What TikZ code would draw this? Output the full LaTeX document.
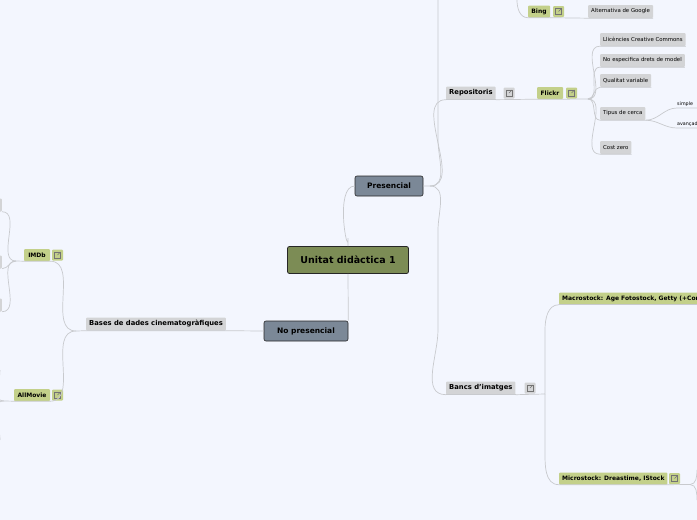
\documentclass[tikz,border=0pt]{standalone}
\usepackage{fontspec}
\setmainfont{DejaVu Sans}
\begin{document}
\begin{tikzpicture}[x=1pt,y=-1pt,
  every node/.style={inner sep=0pt,font=\bfseries},
  main/.style={draw=black!85,line width=0.8pt,rounded corners=2pt,minimum height=27pt,font=\bfseries\fontsize{9.5}{10}\selectfont,fill=mainc,text=black},
  lvl1/.style={draw=black!85,line width=0.6pt,rounded corners=2pt,minimum height=20pt,fill=slate,font=\bfseries\fontsize{7.5}{8}\selectfont},
  gbox/.style={fill=gboxc,rounded corners=1pt,minimum height=13pt,inner xsep=3pt,font=\bfseries\fontsize{6.8}{7}\selectfont},
  grbox/.style={fill=greenc,rounded corners=1pt,minimum height=12pt,inner xsep=3pt,font=\bfseries\fontsize{6}{7}\selectfont},
  leaf/.style={fill=gboxc,rounded corners=1pt,minimum height=13pt,inner xsep=3pt,font=\fontsize{5.4}{6}\selectfont},
  tiny/.style={font=\fontsize{4.8}{5}\selectfont},
  icon/.style={minimum size=11pt,rounded corners=1pt},
  gicon/.style={icon,fill=greenc},
  ggicon/.style={icon,fill=gboxc},
  con/.style={draw=linec,line width=0.7pt}]
\definecolor{bg}{HTML}{F3F6FE}
\definecolor{mainc}{HTML}{7C8C55}
\definecolor{slate}{HTML}{7B8897}
\definecolor{gboxc}{HTML}{D3D4D6}
\definecolor{greenc}{HTML}{C3D08A}
\definecolor{linec}{HTML}{C8CACE}
\fill[bg] (0,0) rectangle (697,520);
\useasboundingbox (0,0) rectangle (697,520);
\begin{scope}
\clip (0,0) rectangle (697,520);
% nodes
\node[main,minimum width=121pt] (c) at (348,260) {Unitat didàctica 1};
\node[lvl1,minimum width=68pt] (p) at (389,186) {Presencial};
\node[lvl1,minimum width=84pt] (np) at (306,331) {No presencial};
\node[gbox,anchor=west] (rep) at (446,93) {Repositoris};
\node[ggicon] (repi) at (509,93) {};
\node[gbox,anchor=west] (ban) at (446,388) {Bancs d’imatges};
\node[ggicon] (bani) at (530,388) {};
\node[grbox,minimum width=22pt] (bing) at (539,11.5) {Bing};
\node[gicon] (bingi) at (558.5,11.5) {};
\node[leaf,anchor=west] (alt) at (588,11.5) {Alternativa de Google};
\node[grbox,minimum width=26pt] (fl) at (550,93) {Flickr};
\node[gicon] (fli) at (571.5,93) {};
\node[leaf,anchor=west] (f1) at (600,39.5) {Llicències Creative Commons};
\node[leaf,anchor=west] (f2) at (600,60.5) {No especifica drets de model};
\node[leaf,anchor=west] (f3) at (600,80.5) {Qualitat variable};
\node[leaf,anchor=west] (f4) at (600,113.5) {Tipus de cerca};
\node[leaf,anchor=west] (f5) at (600,147.5) {Cost zero};
\node[tiny,anchor=west] (s1) at (677,104) {simple};
\node[tiny,anchor=west] (s2) at (677,124) {avançada};
\node[grbox,anchor=west] (mac) at (559,298.5) {Macrostock: Age Fotostock, Getty (+Corbis)};
\node[grbox,anchor=west] (mic) at (559,478.5) {Microstock: Dreastime, IStock};
\node[gicon] (mici) at (674.5,478.5) {};
\node[gbox,anchor=west] (bd) at (86,324) {Bases de dades cinematogràfiques};
\node[grbox,minimum width=26pt] (imdb) at (37,255) {IMDb};
\node[gicon] (imdbi) at (57.5,255) {};
\node[grbox,minimum width=36pt] (all) at (32,395) {AllMovie};
\node[gicon] (alli) at (57.5,395) {};
\node[gbox,anchor=east,minimum width=6pt] (l1) at (2,205) {};
\node[gbox,anchor=east,minimum width=6pt] (l2) at (2,262) {};
\node[gbox,anchor=east,minimum width=6pt] (l3) at (2,305) {};
% icon glyphs
\foreach \i in {repi,bani,bingi,fli,mici,imdbi,alli}{
  \draw[black!55,line width=0.4pt] ([shift={(-3,-3)}]\i.center) rectangle ([shift={(3,3)}]\i.center);
  \draw[black!55,line width=0.4pt] (\i.center) -- ([shift={(3,-3)}]\i.center);}
% connectors
\draw[con] (c.north) -- ++(0,-8) to[out=-90,in=180] (p.west);
\draw[con] (c.south) -- (np.north east);
\draw[con] (p.east) -- (430,186) to[out=0,in=180] (rep.south west);
\draw[con] (430,186) to[out=0,in=90] (438,230) -- (438,330) to[out=-90,in=180] (ban.south west);
\draw[con] (430,186) to[out=0,in=-90] (438,140) -- (438,0);
\draw[con] (rep.south west) -- (rep.south east);
\draw[con] (ban.south west) -- (ban.south east);
\draw[con] (rep.south east) -- (fl.south west) -- (fl.south east);
\draw[con] (ban.south east) -- (545,394) -- (545,330) to[out=90,in=180] (mac.south west);
\draw[con] (545,394) -- (545,450) to[out=-90,in=180] (mic.south west);
\draw[con] (mac.south west) -- (mac.south east);
\draw[con] (mic.south west) -- (mic.south east) -- (690,484.5) to[out=0,in=-90] (697,470);
\draw[con] (690,484.5) to[out=0,in=90] (697,500);
\draw[con] (517,0) to[out=-90,in=180] (bing.south west) -- (bing.south east);
\draw[con] (bing.south east) -- (alt.south west) -- (alt.south east);
\draw[con] (fl.south east) -- (588,99) to[out=0,in=180] (f1.south west) -- (f1.south east);
\draw[con] (588,99) to[out=0,in=180] (f2.south west) -- (f2.south east);
\draw[con] (588,99) to[out=0,in=180] (f3.south west) -- (f3.south east);
\draw[con] (588,99) to[out=0,in=180] (f4.south west) -- (f4.south east);
\draw[con] (588,99) to[out=0,in=180] (f5.south west) -- (f5.south east);
\draw[con] (f4.south east) to[out=0,in=180] (677,108) -- (697,108);
\draw[con] (f4.south east) to[out=0,in=180] (677,128) -- (697,128);
\draw[con] (np.west) -- (bd.south east) -- (bd.south west);
\draw[con] (bd.south west) -- (76,331) to[out=180,in=0] (imdb.south east);
\draw[con] (76,331) to[out=180,in=0] (all.south east);
\draw[con] (imdb.south east) -- (imdb.south west) -- (16,261) to[out=180,in=0] (l1.south east);
\draw[con] (16,261) to[out=180,in=0] (l2.south east);
\draw[con] (16,261) to[out=180,in=0] (l3.south east);
\draw[con] (all.south east) -- (all.south west) -- (4,401) to[out=180,in=-90] (0,370);
\draw[con] (4,401) to[out=180,in=90] (0,440);
\end{scope}
\end{tikzpicture}
\end{document}
